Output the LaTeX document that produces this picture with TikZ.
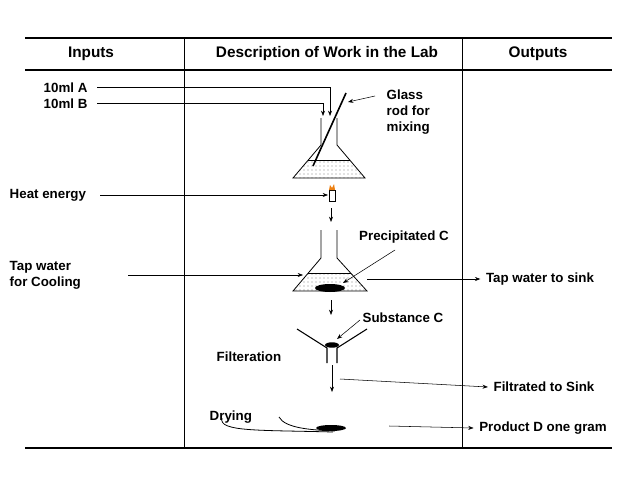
\documentclass[tikz,border=0pt]{standalone}
\usepackage{fontspec}
\setmainfont{Liberation Sans}
\usetikzlibrary{patterns,arrows.meta}
\tikzset{
  lbl/.style={font=\fontsize{10}{12}\selectfont\bfseries, inner sep=1pt},
  head/.style={font=\fontsize{11.5}{13}\selectfont\bfseries},
  flow/.style={-{Stealth[length=4pt,width=3pt]}, thin},
  liquid/.style={pattern=dots, pattern color=gray}
}
\begin{document}
\begin{tikzpicture}[x=0.75pt,y=-0.75pt, semithick]
\useasboundingbox (0,0) rectangle (638,478);
% table
\draw[thick] (25,38) -- (612,38) (25,70) -- (612,70) (25,448) -- (612,448);
\draw (184,38) -- (184,448) (462,38) -- (462,448);
\node[head] (hin) at (91,54) {Inputs};
\node[head] (hwork) at (327,54) {Description of Work in the Lab};
\node[head] (hout) at (538,54) {Outputs};
% inputs
\node[lbl, anchor=west] (inA) at (42,88) {10ml A};
\node[lbl, anchor=west] (inB) at (42,104) {10ml B};
\node[lbl, anchor=west] (heat) at (8,195) {Heat energy};
\node[lbl, anchor=west, align=left] (tap) at (8,275) {Tap water\\for Cooling};
\node[lbl, anchor=west] (filt) at (215,357) {Filteration};
\node[lbl, anchor=west] (dry) at (208,417) {Drying};
% flask 1
\fill[liquid] (308,160) -- (350,160) -- (365,178) -- (293,178) -- cycle;
\draw[thin] (308,160) -- (350,160);
\draw (321,118) -- (321,145) -- (293,178) -- (365,178) -- (337,145) -- (337,118);
\coordinate (fA) at (330,116);
\coordinate (fB) at (323,116);
\draw[flow] (97,87) -| (fA);
\draw[flow] (97,103) -| (fB);
\draw[line width=1.2pt] (346,93) coordinate (rod) -- (313,166);
\node[lbl, anchor=west, align=left] (glass) at (385,112) {Glass\\rod for\\mixing};
\draw[flow] (375,96) -- (348,102);
% burner
\draw[thin] (329,190) rectangle (335,201);
\fill[orange!70!brown] (329,190) -- (330,185) -- (332,188) -- (334,184) -- (335,190) -- cycle;
\coordinate (burn) at (328,195);
\draw[flow] (100,195) -- (burn);
\draw[flow] (331,208) -- (331,222);
% flask 2
\fill[liquid] (308,273) -- (351,273) -- (367,291) -- (293,291) -- cycle;
\draw[thin] (308,273) -- (351,273);
\draw (321,230) -- (321,258) -- (293,291) -- (367,291) -- (337,258) -- (337,230);
\fill (330,288) ellipse (15 and 4);
\node[lbl] (precip) at (404,237) {Precipitated C};
\draw[flow] (395,250) -- (343,283);
\coordinate (cool) at (303,275);
\draw[flow] (128,275) -- (cool);
\node[lbl] (sink) at (540,279) {Tap water to sink};
\draw[flow] (367,279) -- ([xshift=-3pt]sink.west);
\draw[flow] (331,300) -- (331,315);
% funnel
\draw[thick] (297,329) -- (327,348) -- (327,363) (367,329) -- (337,348) -- (337,363);
\fill (332,345) ellipse (7 and 2.7);
\node[lbl] (subst) at (403,318) {Substance C};
\draw[flow] (360,320) -- (337,339);
\draw[flow] (332,365) -- (332,392);
\node[lbl] (filtr) at (544,387) {Filtrated to Sink};
\draw[flow] (340,379) -- ([xshift=-3pt]filtr.west);
% drying
\draw (222,418) .. controls (218,432) and (260,430) .. (333,432);
\draw (279,417) .. controls (285,428) and (310,430) .. (335,431);
\fill (331,428) ellipse (15 and 3);
\node[lbl] (prod) at (543,428) {Product D one gram};
\draw[flow] (389,426) -- ([xshift=-3pt]prod.west);
\end{tikzpicture}
\end{document}
